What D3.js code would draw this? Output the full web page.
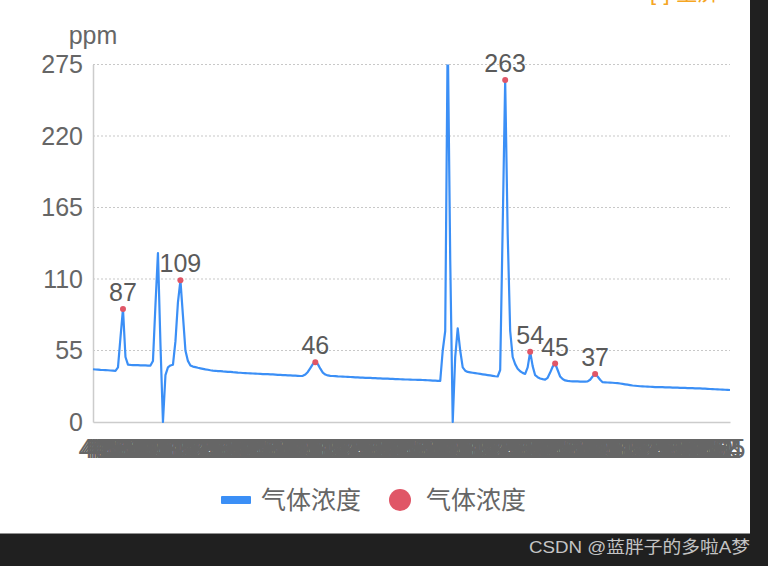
<!DOCTYPE html>
<html>
<head>
<meta charset="utf-8">
<script src="https://cdn.jsdelivr.net/npm/d3@7"></script>
<style>
  html, body { margin: 0; padding: 0; background: #202020; }
  svg { display: block; }
  text { font-family: "Liberation Sans", Arial, "Noto Sans CJK SC", sans-serif; }
</style>
</head>
<body>
<svg id="chart" width="768" height="566"></svg>
<script>
// ---- data ----
const seriesName = "气体浓度";
const unitLabel = "ppm";
const yTicks = [0, 55, 110, 165, 220, 275];
const values = [
  40.6, 40.4, 40.3, 40.1, 40.0, 39.9, 39.8, 39.6, 39.5, 39.4,
  42, 65, 87, 50, 44.2, 43.9, 43.8, 43.8, 43.7, 43.6,
  43.6, 43.5, 43.4, 43.4, 47, 90, 130, 60, 0, 36,
  42, 43.5, 44, 62, 92, 109, 82, 55, 47, 43.5,
  42.6, 42.2, 41.7, 41.3, 40.9, 40.5, 40.2, 39.8, 39.5, 39.4,
  39.2, 39.1, 38.9, 38.8, 38.6, 38.5, 38.3, 38.2, 38.0, 37.9,
  37.7, 37.6, 37.5, 37.4, 37.3, 37.2, 37.1, 37.0, 36.9, 36.8,
  36.8, 36.7, 36.6, 36.5, 36.3, 36.2, 36.1, 36.0, 35.9, 35.8,
  35.7, 35.6, 35.5, 35.4, 35.5, 36.5, 38.5, 41.5, 44.5, 46,
  44.5, 41, 38, 36.5, 35.8, 35.5, 35.4, 35.3, 35.1, 35.0,
  34.9, 34.8, 34.7, 34.6, 34.5, 34.4, 34.3, 34.2, 34.1, 34.0,
  33.9, 33.9, 33.8, 33.7, 33.6, 33.5, 33.4, 33.4, 33.3, 33.2,
  33.1, 33.0, 33.0, 32.9, 32.8, 32.7, 32.7, 32.6, 32.5, 32.5,
  32.4, 32.4, 32.3, 32.2, 32.1, 32.0, 31.9, 31.8, 31.7, 31.6,
  55, 70, 300, 125, 0, 50, 72, 55, 42, 39.5,
  38.5, 38.2, 37.9, 37.6, 37.3, 37.0, 36.7, 36.4, 36.1, 35.8,
  35.5, 35.2, 35.0, 40, 150, 263, 145, 70, 50, 44.5,
  41, 39, 37.8, 37, 42, 54, 43, 36, 34.5, 33.5,
  33.0, 32.6, 34, 38, 42.5, 45, 40, 35, 33, 32,
  31.6, 31.4, 31.3, 31.2, 31.2, 31.1, 31.0, 31.0, 31.2, 32.5,
  35, 37, 35, 32.5, 30.6, 30.5, 30.4, 30.3, 30.2, 30.0,
  29.9, 29.6, 29.3, 29.0, 28.7, 28.4, 28.1, 27.9, 27.7, 27.5,
  27.4, 27.3, 27.2, 27.1, 27.0, 26.9, 26.9, 26.8, 26.8, 26.7,
  26.6, 26.6, 26.5, 26.5, 26.4, 26.3, 26.3, 26.2, 26.1, 26.1,
  26.0, 25.9, 25.9, 25.8, 25.7, 25.6, 25.5, 25.4, 25.3, 25.2,
  25.1, 25.0, 24.9, 24.8, 24.7, 24.6
];
// x-axis category labels (seconds counter)
const categories = values.map((v, i) => String((40 + i) % 60).padStart(2, "0"));
// indices of labelled peaks (second series)
const peakIndex = [12, 35, 89, 165, 175, 185, 201];

// ---- layout ----
const svg = d3.select("#chart");
const W = 768, H = 566;
const plot = { left: 93, right: 730, top: 64.5, bottom: 422 };
const blue = "#3b8ff6", red = "#e05667", txt = "#666";

svg.append("rect").attr("x", 0).attr("y", 0).attr("width", W).attr("height", H).attr("fill", "#202020");
svg.append("rect").attr("x", 0).attr("y", 0).attr("width", 750).attr("height", 533.5).attr("fill", "#fff");

// clipped top-right toolbar text
svg.append("text").attr("x", 650).attr("y", 0).attr("font-size", 22).attr("fill", "#f5a623")
  .text("[-] 全屏");

const idx = d3.range(values.length);
const x = d3.scalePoint().domain(idx).range([plot.left, plot.right]);
const y = d3.scaleLinear().domain([0, 275]).range([plot.bottom, plot.top]);

// grid
svg.append("g").selectAll("line").data(yTicks.filter(d => d > 0)).join("line")
  .attr("x1", plot.left).attr("x2", plot.right)
  .attr("y1", d => y(d)).attr("y2", d => y(d))
  .attr("stroke", "#c8c8c8").attr("stroke-width", 1.2).attr("stroke-dasharray", "2,2");

// y axis
const yAxis = d3.axisLeft(y).tickValues(yTicks).tickSize(0).tickPadding(10);
const gy = svg.append("g").attr("transform", `translate(${plot.left},0)`).call(yAxis);
gy.select(".domain").attr("stroke", "#ccc").attr("stroke-width", 1.5);
gy.selectAll("text").attr("font-size", 25).attr("fill", txt)
  .attr("font-family", "Liberation Sans, Arial, sans-serif");

// x axis
const xAxis = d3.axisBottom(x).tickSize(0).tickPadding(17).tickFormat(i => categories[i]);
const gx = svg.append("g").attr("transform", `translate(0,${plot.bottom})`).call(xAxis);
gx.select(".domain").attr("stroke", "#ccc").attr("stroke-width", 1.5);
gx.selectAll("text").attr("font-size", 27).attr("fill", txt)
  .attr("font-family", "Liberation Sans, Arial, sans-serif");

// unit label
svg.append("text").attr("x", 93).attr("y", 44).attr("text-anchor", "middle")
  .attr("font-size", 25).attr("fill", txt).text(unitLabel);

// clip
svg.append("clipPath").attr("id", "clip").append("rect")
  .attr("x", plot.left - 2).attr("y", plot.top).attr("width", plot.right - plot.left + 4)
  .attr("height", plot.bottom - plot.top + 1);

const line = d3.line().x((d, i) => x(i)).y(d => y(d));
svg.append("path").datum(values).attr("clip-path", "url(#clip)")
  .attr("d", line).attr("fill", "none").attr("stroke", blue)
  .attr("stroke-width", 2.2).attr("stroke-linejoin", "round");

// peaks series
const peaks = peakIndex.map(i => ({ i: i, v: values[i] }));
svg.append("g").selectAll("circle").data(peaks).join("circle")
  .attr("cx", d => x(d.i)).attr("cy", d => y(d.v)).attr("r", 3).attr("fill", red);
svg.append("g").selectAll("text").data(peaks).join("text")
  .attr("x", d => x(d.i)).attr("y", d => y(d.v) - 8).attr("text-anchor", "middle")
  .attr("font-size", 25).attr("fill", "#5a5a5a").text(d => d.v);

// legend
const lg = svg.append("g");
lg.append("rect").attr("x", 221).attr("y", 496).attr("width", 30).attr("height", 8).attr("rx", 1).attr("fill", blue);
lg.append("text").attr("x", 261).attr("y", 500).attr("dominant-baseline", "central")
  .attr("font-size", 25).attr("fill", txt).attr("font-family", "Noto Sans CJK SC, sans-serif").text(seriesName);
lg.append("circle").attr("cx", 400).attr("cy", 500).attr("r", 11).attr("fill", red);
lg.append("text").attr("x", 426).attr("y", 500).attr("dominant-baseline", "central")
  .attr("font-size", 25).attr("fill", txt).attr("font-family", "Noto Sans CJK SC, sans-serif").text(seriesName);

// watermark
svg.append("text").attr("x", 750).attr("y", 553).attr("text-anchor", "end")
  .attr("font-size", 17).attr("fill", "#c4c4c4")
  .attr("textLength", 221).attr("lengthAdjust", "spacingAndGlyphs")
  .text("CSDN @蓝胖子的多啦A梦");
</script>
</body>
</html>
